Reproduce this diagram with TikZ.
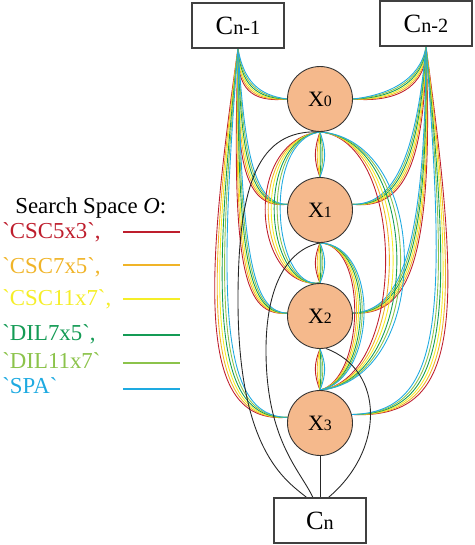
\documentclass[tikz,border=0pt]{standalone}
\usepackage{fontspec}
\setmainfont{Liberation Serif}
\usetikzlibrary{backgrounds}
\definecolor{csc53}{RGB}{190,30,45}
\definecolor{csc75}{RGB}{240,180,40}
\definecolor{csc117}{RGB}{245,238,40}
\definecolor{dil75}{RGB}{20,155,85}
\definecolor{dil117}{RGB}{140,195,75}
\definecolor{spa}{RGB}{30,170,225}
\definecolor{nodefill}{RGB}{245,185,140}
\newcommand{\MixedOp}[8]{%
	\foreach \opcol [count=\k] in {csc53,csc75,csc117,dil75,dil117,spa}{
		\pgfmathsetmacro{\off}{\k-3.5}
		\draw[\opcol,opline] (#1) .. controls ({#2+\off*(#6)},{#3+\off*(#7)}) and ({#4+\off*(#6)},{#5+\off*(#7)}) .. (#8);
	}}

\begin{document}
\begin{tikzpicture}[x=0.02cm,y=-0.02cm,
		cellbox/.style={draw=black!75,line width=0.6pt,minimum width=1.84cm,minimum height=0.9cm,inner sep=0pt,font=\fontsize{15}{17}\selectfont},
		statenode/.style={circle,draw=black!80,line width=0.5pt,fill=nodefill,minimum size=1.3cm,inner sep=0pt,font=\fontsize{12.5}{14}\selectfont},
		opline/.style={line width=0.5pt},
		outedge/.style={black!85,line width=0.5pt},
		keytext/.style={anchor=base west,inner sep=0pt,font=\fontsize{13}{15}\selectfont},
		keyline/.style={line width=1.1pt}]
	\useasboundingbox (0,0) rectangle (474,545);
	\node[cellbox] (cprev) at (238,25.5) {C{\fontsize{11.5}{13}\selectfont n-1}};
	\node[cellbox] (cprevprev) at (426,23.5) {C{\fontsize{11.5}{13}\selectfont n-2}};
	\node[cellbox] (cout) at (320,520.5) {C{\fontsize{11.5}{13}\selectfont n}};
	\node[statenode] (x0) at (320,99) {X{\fontsize{9}{10}\selectfont 0}};
	\node[statenode] (x1) at (320,210) {X{\fontsize{9}{10}\selectfont 1}};
	\node[statenode] (x2) at (320,316) {X{\fontsize{9}{10}\selectfont 2}};
	\node[statenode] (x3) at (320,423) {X{\fontsize{9}{10}\selectfont 3}};
	\begin{scope}[on background layer]
		\MixedOp{cprev.south}{240}{85}{255}{99}{1.5}{-1.5}{x0.west}
		\MixedOp{cprevprev.south}{424}{85}{390}{99}{-1.5}{-1.5}{x0.east}
		\MixedOp{cprev.south}{240}{160}{250}{207}{2}{-1}{x1.170}
		\MixedOp{cprevprev.south}{420}{170}{395}{207}{-2}{-1}{x1.10}
		\MixedOp{cprev.south}{236}{270}{250}{314}{2}{-1}{x2.175}
		\MixedOp{cprevprev.south}{430}{270}{400}{313}{-2}{-1}{x2.5}
		\MixedOp{cprev.south}{210}{300}{210}{421}{3.5}{-1.5}{x3.170}
		\MixedOp{cprevprev.south}{455}{320}{452}{416}{-3.5}{-1.5}{x3.15}
		\MixedOp{x0.south}{320}{150}{320}{160}{2.5}{0}{x1.north}
		\MixedOp{x0.south}{252}{140}{262}{290}{4}{0}{x2.north}
		\MixedOp{x0.south}{420}{140}{420}{380}{5}{0}{x3.north}
		\MixedOp{x1.south}{320}{258}{320}{268}{2.5}{0}{x2.north}
		\MixedOp{x1.south}{375}{245}{370}{380}{2.5}{0}{x3.north}
		\MixedOp{x2.south}{320}{364}{320}{374}{2.5}{0}{x3.north}
		\draw[outedge] (x0.265) .. controls (260,131) and (238,180) .. (238,300) .. controls (238,450) and (285,480) .. (cout.120);
		\draw[outedge] (x1.south) .. controls (285,250) and (266,290) .. (266,350) .. controls (266,440) and (300,470) .. (cout.107);
		\draw[outedge] (x2.280) .. controls (385,370) and (385,450) .. (cout.70);
		\draw[outedge] (x3.south) -- (cout.north);
	\end{scope}
	\node[keytext] (keytitle) at (15,213) {Search Space \textit{O}:};
	\node[keytext,text=csc53] (kcsc53) at (2,238) {\textasciigrave CSC5x3\textasciigrave,};
	\node[keytext,text=csc75] (kcsc75) at (2,273) {\textasciigrave CSC7x5\textasciigrave,};
	\node[keytext,text=csc117] (kcsc117) at (2,305) {\textasciigrave CSC11x7\textasciigrave,};
	\node[keytext,text=dil75] (kdil75) at (2,340) {\textasciigrave DIL7x5\textasciigrave,};
	\node[keytext,text=dil117] (kdil117) at (2,368) {\textasciigrave DIL11x7\textasciigrave};
	\node[keytext,text=spa] (kspa) at (2,393) {\textasciigrave SPA\textasciigrave};
	\draw[csc53,keyline] (123,232) -- (180,232);
	\draw[csc75,keyline] (123,265) -- (180,265);
	\draw[csc117,keyline] (123,299) -- (180,299);
	\draw[dil75,keyline] (123,335) -- (180,335);
	\draw[dil117,keyline] (123,363) -- (180,363);
	\draw[spa,keyline] (123,389) -- (180,389);
\end{tikzpicture}
\end{document}
